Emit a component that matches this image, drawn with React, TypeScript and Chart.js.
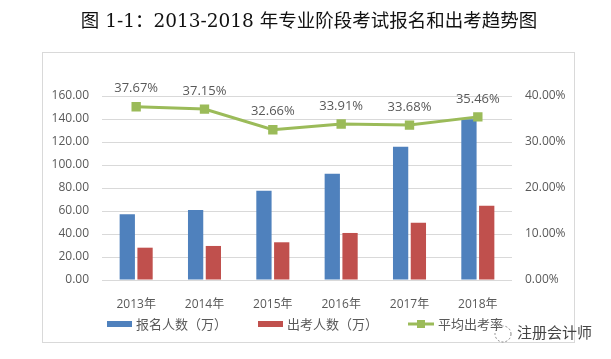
import React, { useEffect, useRef } from "react";
import { Chart, registerables } from "chart.js";

Chart.register(...registerables);

const titleText = "图 1-1：2013-2018 年专业阶段考试报名和出考趋势图";
const categories = ["2013年", "2014年", "2015年", "2016年", "2017年", "2018年"];
const registered = [57.1, 60.9, 77.7, 92.4, 115.9, 139.7];
const attended = [28.1, 29.6, 32.8, 40.9, 49.8, 64.6];
const attendRate = [37.67, 37.15, 32.66, 33.91, 33.68, 35.46];
const seriesNames = ["报名人数（万）", "出考人数（万）", "平均出考率"];
const leftAxis = { min: 0, max: 160, step: 20 };
const rightAxis = { min: 0, max: 40, step: 10 };
const watermarkText = "注册会计师";

const BLUE = "#4f81bd";
const RED = "#c0504d";
const GREEN = "#9bbb59";
const TEXT = "#595959";
const GRID = "#d9d9d9";
const FONT = "'Open Sans', 'Noto Sans CJK SC', sans-serif";
const CJK = "'Noto Sans CJK SC', sans-serif";

export default function App() {
  const ref = useRef<HTMLCanvasElement | null>(null);

  useEffect(() => {
    document.body.style.margin = "0";
    const canvas = ref.current;
    if (!canvas) return;

    const decor = {
      id: "decor",
      beforeDraw(chart: any) {
        const ctx = chart.ctx;
        ctx.save();
        ctx.fillStyle = "#ffffff";
        ctx.fillRect(0, 0, chart.width, chart.height);
        ctx.strokeStyle = GRID;
        ctx.lineWidth = 1;
        ctx.strokeRect(42.5, 52.5, 532, 290);
        ctx.fillStyle = "#111";
        ctx.font = `18.5px 'DejaVu Serif', 'Noto Sans CJK SC', serif`;
        ctx.textAlign = "center";
        ctx.textBaseline = "middle";
        ctx.fillText(titleText, 309, 22);
        ctx.restore();
      },
      afterDraw(chart: any) {
        const ctx = chart.ctx;
        ctx.save();
        // data labels for line
        const meta = chart.getDatasetMeta(2);
        ctx.fillStyle = TEXT;
        ctx.font = `13px ${FONT}`;
        ctx.textAlign = "center";
        ctx.textBaseline = "middle";
        meta.data.forEach((pt: any, i: number) => {
          ctx.fillText(attendRate[i].toFixed(2) + "%", pt.x, pt.y - 18);
        });
        // legend
        const ly = 324;
        ctx.textAlign = "left";
        ctx.font = `13px ${CJK}`;
        ctx.fillStyle = BLUE;
        ctx.fillRect(107, ly - 3, 25, 6);
        ctx.fillStyle = TEXT;
        ctx.fillText(seriesNames[0], 136, ly);
        ctx.fillStyle = RED;
        ctx.fillRect(258, ly - 3, 25, 6);
        ctx.fillStyle = TEXT;
        ctx.fillText(seriesNames[1], 287, ly);
        ctx.strokeStyle = GREEN;
        ctx.lineWidth = 3;
        ctx.beginPath();
        ctx.moveTo(408, ly);
        ctx.lineTo(434, ly);
        ctx.stroke();
        ctx.fillStyle = GREEN;
        ctx.fillRect(417, ly - 4, 8, 8);
        ctx.fillStyle = TEXT;
        ctx.fillText(seriesNames[2], 438, ly);
        // watermark
        ctx.strokeStyle = "#888";
        ctx.lineWidth = 1;
        ctx.setLineDash([2, 2]);
        ctx.beginPath();
        ctx.arc(503, 334, 8, 0, Math.PI * 2);
        ctx.stroke();
        ctx.setLineDash([]);
        ctx.fillStyle = "#444";
        ctx.font = `15px ${CJK}`;
        ctx.fillText(watermarkText, 517, 332);
        ctx.restore();
      },
    };

    const chart = new Chart(canvas, {
      type: "bar",
      data: {
        labels: categories,
        datasets: [
          {
            type: "bar",
            label: seriesNames[0],
            data: registered,
            backgroundColor: BLUE,
            yAxisID: "y",
            order: 2,
            categoryPercentage: 0.52,
            barPercentage: 0.86,
          },
          {
            type: "bar",
            label: seriesNames[1],
            data: attended,
            backgroundColor: RED,
            yAxisID: "y",
            order: 2,
            categoryPercentage: 0.52,
            barPercentage: 0.86,
          },
          {
            type: "line",
            label: seriesNames[2],
            data: attendRate,
            borderColor: GREEN,
            backgroundColor: GREEN,
            borderWidth: 3,
            pointStyle: "rect",
            pointRadius: 4.5,
            pointBackgroundColor: GREEN,
            pointBorderColor: GREEN,
            yAxisID: "y1",
            order: 1,
          } as any,
        ],
      },
      options: {
        responsive: false,
        animation: false,
        layout: { padding: { top: 96, left: 0, right: 0, bottom: 0 } },
        plugins: {
          legend: { display: false },
          title: { display: false },
          tooltip: { enabled: false },
        },
        scales: {
          x: {
            grid: { display: false },
            border: { display: false },
            ticks: { color: TEXT, font: { family: FONT, size: 12 }, padding: 9 },
            afterFit: (s: any) => {
              s.height = 79;
            },
          },
          y: {
            position: "left",
            min: leftAxis.min,
            max: leftAxis.max,
            grid: { color: GRID, drawTicks: false },
            border: { display: false },
            ticks: {
              stepSize: leftAxis.step,
              color: TEXT,
              font: { family: FONT, size: 12 },
              padding: 13,
              callback: (v: any) => Number(v).toFixed(2),
            },
            afterFit: (s: any) => {
              s.width = 102;
            },
          },
          y1: {
            position: "right",
            min: rightAxis.min,
            max: rightAxis.max,
            grid: { display: false, drawTicks: false },
            border: { display: false },
            ticks: {
              stepSize: rightAxis.step,
              color: TEXT,
              font: { family: FONT, size: 12 },
              padding: 13,
              callback: (v: any) => Number(v).toFixed(2) + "%",
            },
            afterFit: (s: any) => {
              s.width = 99;
            },
          },
        },
      },
      plugins: [decor],
    });

    return () => chart.destroy();
  }, []);

  return (
    <div style={{ width: 611, height: 359, position: "relative" }}>
      <canvas ref={ref} width={611} height={359} style={{ display: "block" }} />
    </div>
  );
}
